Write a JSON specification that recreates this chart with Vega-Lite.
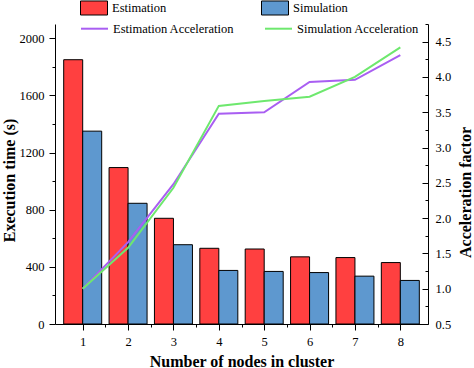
{
  "$schema": "https://vega.github.io/schema/vega-lite/v6.json",
  "autosize": "none",
  "width": 373,
  "height": 300,
  "padding": {"left": 55, "top": 24, "right": 46, "bottom": 44},
  "background": "white",
  "config": {
    "font": "Liberation Serif",
    "view": {"stroke": null},
    "style": {"guide-label": {"font": "Liberation Serif"}, "guide-title": {"font": "Liberation Serif"}},
    "axis": {
      "domainColor": "black",
      "tickColor": "black",
      "labelColor": "black",
      "titleColor": "black",
      "labelFont": "Liberation Serif",
      "titleFont": "Liberation Serif",
      "labelFontSize": 12.5,
      "titleFontSize": 16,
      "titleFontWeight": "bold",
      "grid": false,
      "tickSize": 6,
      "labelPadding": 5
    },
    "legend": {
      "labelFont": "Liberation Serif",
      "labelFontSize": 12.5,
      "labelColor": "black"
    }
  },
  "datasets": {
    "time": [
      {"nodes": 1, "series": "Estimation", "time": 1850},
      {"nodes": 2, "series": "Estimation", "time": 1095},
      {"nodes": 3, "series": "Estimation", "time": 740},
      {"nodes": 4, "series": "Estimation", "time": 530},
      {"nodes": 5, "series": "Estimation", "time": 525},
      {"nodes": 6, "series": "Estimation", "time": 470},
      {"nodes": 7, "series": "Estimation", "time": 465},
      {"nodes": 8, "series": "Estimation", "time": 430},
      {"nodes": 1, "series": "Simulation", "time": 1350},
      {"nodes": 2, "series": "Simulation", "time": 845},
      {"nodes": 3, "series": "Simulation", "time": 555},
      {"nodes": 4, "series": "Simulation", "time": 375},
      {"nodes": 5, "series": "Simulation", "time": 368},
      {"nodes": 6, "series": "Simulation", "time": 360},
      {"nodes": 7, "series": "Simulation", "time": 335},
      {"nodes": 8, "series": "Simulation", "time": 305}
    ],
    "acc": [
      {"nodes": 1, "series": "Estimation Acceleration", "acc": 1.0},
      {"nodes": 2, "series": "Estimation Acceleration", "acc": 1.66},
      {"nodes": 3, "series": "Estimation Acceleration", "acc": 2.48},
      {"nodes": 4, "series": "Estimation Acceleration", "acc": 3.48},
      {"nodes": 5, "series": "Estimation Acceleration", "acc": 3.5},
      {"nodes": 6, "series": "Estimation Acceleration", "acc": 3.93},
      {"nodes": 7, "series": "Estimation Acceleration", "acc": 3.96},
      {"nodes": 8, "series": "Estimation Acceleration", "acc": 4.31},
      {"nodes": 1, "series": "Simulation Acceleration", "acc": 1.0},
      {"nodes": 2, "series": "Simulation Acceleration", "acc": 1.58},
      {"nodes": 3, "series": "Simulation Acceleration", "acc": 2.43},
      {"nodes": 4, "series": "Simulation Acceleration", "acc": 3.59},
      {"nodes": 5, "series": "Simulation Acceleration", "acc": 3.66},
      {"nodes": 6, "series": "Simulation Acceleration", "acc": 3.72},
      {"nodes": 7, "series": "Simulation Acceleration", "acc": 4.0},
      {"nodes": 8, "series": "Simulation Acceleration", "acc": 4.42}
    ]
  },
  "layer": [
    {
      "data": {"name": "time"},
      "encoding": {
        "x": {
          "field": "nodes",
          "type": "quantitative",
          "scale": {"domain": [0.5, 8.5], "nice": false, "zero": false},
          "axis": {
            "orient": "bottom",
            "values": [1, 2, 3, 4, 5, 6, 7, 8],
            "format": "d",
            "labelFont": "Liberation Serif",
            "title": "Number of nodes in cluster",
            "titleBaseline": "middle",
            "titleY": 37
          }
        },
        "fill": {
          "field": "series",
          "type": "nominal",
          "scale": {"domain": ["Estimation", "Simulation"], "range": ["#ff4040", "#5e98cf"]},
          "legend": {
            "title": null,
            "orient": "none",
            "legendX": 25,
            "legendY": -30.5,
            "direction": "horizontal",
            "columns": 2,
            "columnPadding": 92,
            "padding": 0,
            "symbolType": "M-1,-0.52H1V0.52H-1Z",
            "symbolSize": 729,
            "symbolStrokeColor": "black",
            "symbolStrokeWidth": 1,
            "symbolOpacity": 1
          }
        }
      },
      "layer": [
        {
          "transform": [{"filter": "datum.series === 'Estimation'"}],
          "mark": {"type": "bar", "width": 19, "xOffset": -9.5, "stroke": "black", "strokeWidth": 1, "opacity": 1},
          "encoding": {
            "y": {
              "field": "time",
              "type": "quantitative",
              "scale": {"domain": [0, 2100], "nice": false},
              "axis": {
                "orient": "left",
                "values": [0, 400, 800, 1200, 1600, 2000],
                "format": "d",
                "labelFont": "Liberation Serif",
                "title": "Execution time (s)",
                "titleAngle": 270,
                "titleAlign": "center",
                "titleBaseline": "middle",
                "titleX": -46,
                "titleY": 156
              }
            }
          }
        },
        {
          "transform": [{"filter": "datum.series === 'Simulation'"}],
          "mark": {"type": "bar", "width": 19, "xOffset": 9.5, "stroke": "black", "strokeWidth": 1, "opacity": 1},
          "encoding": {
            "y": {
              "field": "time",
              "type": "quantitative",
              "axis": {
                "orient": "left",
                "values": [200, 600, 1000, 1400, 1800],
                "labels": false,
                "domain": false,
                "tickSize": 3,
                "title": null
              }
            }
          }
        }
      ],
      "resolve": {"axis": {"y": "independent"}}
    },
    {
      "data": {"name": "acc"},
      "encoding": {
        "x": {
          "field": "nodes",
          "type": "quantitative",
          "axis": {
            "orient": "bottom",
            "values": [1.5, 2.5, 3.5, 4.5, 5.5, 6.5, 7.5],
            "labels": false,
            "domain": false,
            "tickSize": 3,
            "title": null
          }
        }
      },
      "layer": [
        {
          "mark": {"type": "line", "strokeWidth": 2},
          "encoding": {
            "y": {
              "field": "acc",
              "type": "quantitative",
              "scale": {"domain": [0.5, 4.75], "nice": false, "zero": false},
              "axis": {
                "orient": "right",
                "values": [0.5, 1, 1.5, 2, 2.5, 3, 3.5, 4, 4.5],
                "format": ".1f",
                "labelFont": "Liberation Serif",
                "tickSize": -6,
                "labelPadding": 13,
                "title": "Acceleration factor",
                "titleAngle": 270,
                "titleAlign": "center",
                "titleBaseline": "middle",
                "titleX": 37,
                "titleY": 168
              }
            },
            "stroke": {
              "field": "series",
              "type": "nominal",
              "scale": {"domain": ["Estimation Acceleration", "Simulation Acceleration"], "range": ["#a95ef2", "#6ee86e"]},
              "legend": {
                "title": null,
                "orient": "none",
                "legendX": 25,
                "legendY": -9.8,
                "direction": "horizontal",
                "columns": 2,
                "columnPadding": 26,
                "padding": 0,
                "symbolType": "stroke",
                "symbolSize": 729,
                "symbolStrokeWidth": 2
              }
            }
          }
        },
        {
          "mark": {"type": "point", "opacity": 0},
          "encoding": {
            "y": {
              "field": "acc",
              "type": "quantitative",
              "axis": {
                "orient": "right",
                "values": [0.75, 1.25, 1.75, 2.25, 2.75, 3.25, 3.75, 4.25, 4.75],
                "labels": false,
                "domain": false,
                "tickSize": -3,
                "title": null
              }
            }
          }
        }
      ],
      "resolve": {"axis": {"y": "independent"}}
    }
  ],
  "resolve": {"scale": {"y": "independent", "fill": "independent", "stroke": "independent"}, "axis": {"x": "independent"}}
}
